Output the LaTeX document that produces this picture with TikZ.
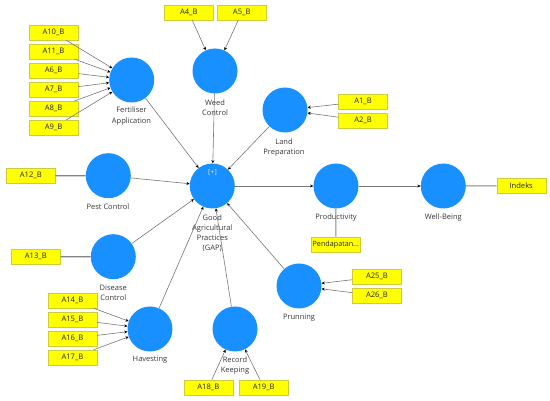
\documentclass[tikz,border=0pt]{standalone}
\usepackage{fontspec}
\setmainfont{Open Sans}
\usetikzlibrary{arrows.meta}
\definecolor{lvblue}{RGB}{24,144,255}
\definecolor{indyellow}{RGB}{255,255,0}
\definecolor{indborder}{RGB}{205,205,60}
\definecolor{linegray}{RGB}{120,120,120}
\definecolor{labgray}{RGB}{55,55,55}
\definecolor{plusblue}{RGB}{200,228,255}
\begin{document}
\begin{tikzpicture}[x=1pt,y=-1pt,
  lv/.style={circle,fill=lvblue,draw=none,minimum size=45pt,inner sep=0pt},
  ind/.style={rectangle,fill=indyellow,draw=indborder,line width=0.4pt,minimum width=49pt,minimum height=15pt,inner sep=0pt,font=\fontsize{7.6}{8}\selectfont,text=black!85},
  lab/.style={align=center,font=\fontsize{7.5}{10.2}\selectfont,text=labgray,inner sep=0pt},
  arr/.style={draw=linegray,line width=0.6pt,-{Stealth[length=3.2pt,width=3pt,black]}},
  und/.style={draw=linegray!90,line width=1.1pt}]
\useasboundingbox (0,0) rectangle (550,401);
\fill[white] (0,0) rectangle (550,401);
% latent variables
\node[lv] (fa) at (131.7,80) {};
\node[lv] (wc) at (215,71) {};
\node[lv] (lp) at (285,110) {};
\node[lv] (gap) at (212.3,186) {};
\node[lv] (prod) at (336,186) {};
\node[lv] (wb) at (443.3,186) {};
\node[lv] (pc) at (108.3,175.7) {};
\node[lv] (dc) at (113.3,256.7) {};
\node[lv] (hv) at (150,329) {};
\node[lv] (rk) at (235,329) {};
\node[lv] (pr) at (299,286) {};
\node[font=\fontsize{7}{7}\selectfont,text=plusblue,inner sep=0pt] (plus) at (212.5,172.7) {[+]};
% labels
\node[lab] (fal) at (131.5,116) {Fertiliser\\Application};
\node[lab] (wcl) at (215,107.5) {Weed\\Control};
\node[lab] (lpl) at (284,147.5) {Land\\Preparation};
\node[lab] (gapl) at (212.3,233.2) {Good\\Agricultural\\Practices\\(GAP)};
\node[lab] (pcl) at (108,206.7) {Pest Control};
\node[lab] (dcl) at (113.3,293) {Disease\\Control};
\node[lab] (hvl) at (150,360) {Havesting};
\node[lab] (rkl) at (235,365.5) {Record\\Keeping};
\node[lab] (prl) at (299,317.3) {Prunning};
\node[lab] (prodl) at (336,217.3) {Productivity};
\node[lab] (wbl) at (443.3,217.3) {Well-Being};
% indicators
\node[ind] (a10) at (53.5,32.5) {A10\_B};
\node[ind] (a11) at (53.5,51.5) {A11\_B};
\node[ind] (a6) at (53.5,70.7) {A6\_B};
\node[ind] (a7) at (53.5,89.7) {A7\_B};
\node[ind] (a8) at (53.5,108.7) {A8\_B};
\node[ind] (a9) at (53.5,127.7) {A9\_B};
\node[ind] (a4) at (188.8,12.5) {A4\_B};
\node[ind] (a5) at (241.7,12.5) {A5\_B};
\node[ind] (a1) at (363,101.5) {A1\_B};
\node[ind] (a2) at (363,120.5) {A2\_B};
\node[ind] (a12) at (30.8,175.8) {A12\_B};
\node[ind] (a13) at (35.8,256.8) {A13\_B};
\node[ind] (a14) at (72.5,300.5) {A14\_B};
\node[ind] (a15) at (72.5,319.3) {A15\_B};
\node[ind] (a16) at (72.5,338.3) {A16\_B};
\node[ind] (a17) at (72.5,357.5) {A17\_B};
\node[ind] (a18) at (208.3,387.3) {A18\_B};
\node[ind] (a19) at (263.7,387.3) {A19\_B};
\node[ind] (a25) at (377,276.8) {A25\_B};
\node[ind] (a26) at (377,295.8) {A26\_B};
\node[ind,font=\fontsize{7.2}{8}\selectfont] (pend) at (335.8,244.3) {Pendapatan...};
\node[ind] (indk) at (521.2,185.8) {Indeks};
% indicator connectors
\foreach \i in {a10,a11,a6,a7,a8,a9} \draw[arr] (\i) -- (fa);
\foreach \i in {a4,a5} \draw[arr] (\i) -- (wc);
\foreach \i in {a1,a2} \draw[arr] (\i) -- (lp);
\foreach \i in {a14,a15,a16,a17} \draw[arr] (\i) -- (hv);
\foreach \i in {a18,a19} \draw[arr] (\i) -- (rk);
\foreach \i in {a25,a26} \draw[arr] (\i) -- (pr);
\draw[und] (a12) -- (pc);
\draw[und] (a13) -- (dc);
\draw[und] (pend) -- (prod);
\draw[und] (wb) -- (indk);
% structural paths
\foreach \s in {fa,wc,lp,pc,dc,hv,rk,pr} \draw[arr] (\s) -- (gap);
\draw[arr] (gap) -- (prod);
\draw[arr] (prod) -- (wb);
\end{tikzpicture}
\end{document}
